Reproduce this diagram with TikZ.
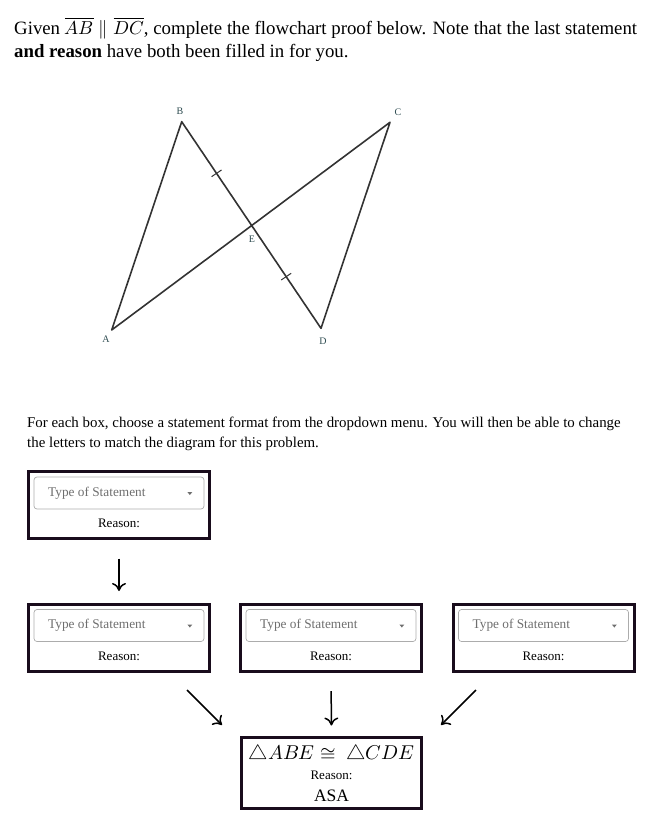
\documentclass[tikz,border=0pt]{standalone}
\usepackage{amsmath}
\usepackage{fontspec}
\usepackage{unicode-math}
\setmainfont{Liberation Serif}
\setmathfont{Latin Modern Math}
\usetikzlibrary{arrows.meta,calc}

\definecolor{boxline}{RGB}{25,12,28}
\definecolor{lbl}{RGB}{45,75,80}
\definecolor{ddtext}{RGB}{110,110,110}

\begin{document}
\begin{tikzpicture}[x=1pt,y=-1pt,
    proofbox/.style={draw=boxline, line width=3pt, minimum width=181pt, minimum height=67pt, inner sep=0pt},
    dropdown/.style={draw=gray!65, rounded corners=3pt, line width=0.7pt, minimum width=170pt, minimum height=32pt, inner sep=0pt},
    ddlabel/.style={text=ddtext, font=\fontsize{13.3}{15}\selectfont, anchor=west},
    reason/.style={font=\fontsize{13}{15}\selectfont, inner sep=1pt},
    vertex/.style={text=lbl, font=\fontsize{10}{11}\selectfont},
    flowarrow/.style={-{To[length=8pt,width=14pt]}, line width=1.5pt}]
            \useasboundingbox (0,0) rectangle (666,835);
            % heading
            \node[anchor=base west, inner sep=0pt, font=\fontsize{18.8}{21}\selectfont] (head1) at (14,34) {Given $\overline{AB}\parallel\overline{DC}$, complete the flowchart proof below. Note that the last statement};
            \node[anchor=base west, inner sep=0pt, font=\fontsize{18.8}{21}\selectfont] (head2) at (14,57) {\textbf{and reason} have both been filled in for you.};
            % figure
            \coordinate (A) at (111.7,330);
            \coordinate (B) at (181.7,121.7);
            \coordinate (C) at (390,122.3);
            \coordinate (D) at (321,328.3);
            \coordinate (E) at (intersection of A--C and B--D);
            \draw[line width=1.6pt, black!80, line join=round] (A) -- (B) -- (D) -- (C) -- cycle;
            \coordinate (T1) at ($(B)!0.25!(D)$);
            \coordinate (T2) at ($(B)!0.75!(D)$);
            \draw[line width=1pt, black!80] ($(T1)!6pt!90:(D)$) -- ($(T1)!6pt!-90:(D)$);
            \draw[line width=1pt, black!80] ($(T2)!6pt!90:(D)$) -- ($(T2)!6pt!-90:(D)$);
            \node[vertex] (labA) at (106,339) {A};
            \node[vertex] (labB) at (180,111) {B};
            \node[vertex] (labC) at (398,112) {C};
            \node[vertex] (labD) at (323,341) {D};
            \node[vertex] (labE) at (252,239) {E};
            % instructions
            \node[anchor=base west, inner sep=0pt, font=\fontsize{14.9}{17}\selectfont] (inst1) at (27,427) {For each box, choose a statement format from the dropdown menu. You will then be able to change};
            \node[anchor=base west, inner sep=0pt, font=\fontsize{14.9}{17}\selectfont] (inst2) at (27,447) {the letters to match the diagram for this problem.};
            % proof boxes
            \node[proofbox] (box1) at (119,505) {};
            \node[proofbox] (box2a) at (119,637.5) {};
            \node[proofbox] (box2b) at (331,637.5) {};
            \node[proofbox] (box2c) at (543.5,637.5) {};
            \node[dropdown] (dd1) at (119,493) {};
            \node[dropdown] (dd2a) at (119,625.5) {};
            \node[dropdown] (dd2b) at (331,625.5) {};
            \node[dropdown] (dd2c) at (543.5,625.5) {};
            \node[ddlabel] at ($(dd1.west)+(11,0)$) {Type of Statement};
            \node[ddlabel] at ($(dd2a.west)+(11,0)$) {Type of Statement};
            \node[ddlabel] at ($(dd2b.west)+(11,0)$) {Type of Statement};
            \node[ddlabel] at ($(dd2c.west)+(11,0)$) {Type of Statement};
            \fill[ddtext] ($(dd1.east)+(-17,-1)$) -- ++(5,0) -- ++(-2.5,3) -- cycle;
            \fill[ddtext] ($(dd2a.east)+(-17,-1)$) -- ++(5,0) -- ++(-2.5,3) -- cycle;
            \fill[ddtext] ($(dd2b.east)+(-17,-1)$) -- ++(5,0) -- ++(-2.5,3) -- cycle;
            \fill[ddtext] ($(dd2c.east)+(-17,-1)$) -- ++(5,0) -- ++(-2.5,3) -- cycle;
            \node[reason] (rs1) at (119,523) {Reason:};
            \node[reason] (rs2a) at (119,656) {Reason:};
            \node[reason] (rs2b) at (331,656) {Reason:};
            \node[reason] (rs2c) at (543.5,656) {Reason:};
            % last statement
            \node[proofbox, minimum width=180pt, minimum height=71pt] (final) at (331.5,773) {};
            \node[font=\fontsize{20}{22}\selectfont, inner sep=0pt] (stmt) at (331.5,752) {$\triangle ABE\cong\ \triangle CDE$};
            \node[reason] (rsf) at (331.5,775.5) {Reason:};
            \node[font=\fontsize{17.5}{19}\selectfont, inner sep=1pt] (asa) at (331.5,796) {ASA};
            % arrows
            \coordinate (t2a) at (187,690);
            \coordinate (h2a) at (222,725);
            \coordinate (t2c) at (476,690);
            \coordinate (h2c) at (441,725);
            \draw[flowarrow, shorten <=18.5pt, shorten >=11.5pt] (box1.south) -- (box2a.north);
            \draw[flowarrow, shorten <=18.5pt, shorten >=10.5pt] (box2b.south) -- (final.north);
            \draw[flowarrow] (t2a) -- (h2a);
            \draw[flowarrow] (t2c) -- (h2c);
        \end{tikzpicture}
\end{document}
